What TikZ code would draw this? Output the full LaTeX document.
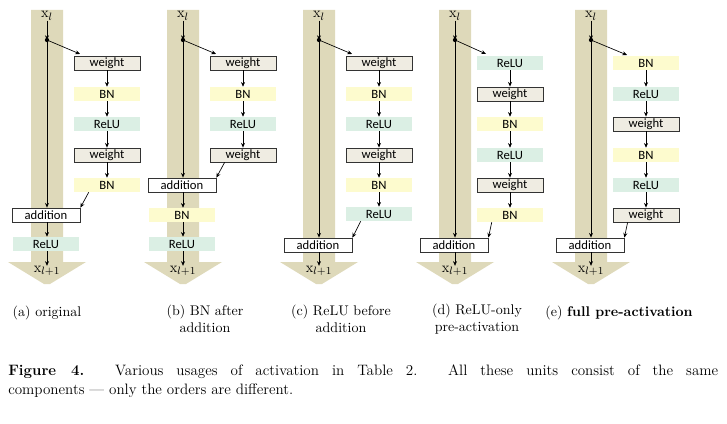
\documentclass[tikz,border=0pt]{standalone}
\usepackage{fontspec}
\newfontfamily\carfont{Carlito}
\usetikzlibrary{arrows.meta}
\definecolor{shaft}{RGB}{222,217,186}
\definecolor{bnc}{RGB}{253,251,206}
\definecolor{reluc}{RGB}{219,239,228}
\definecolor{wc}{RGB}{239,236,226}
\tikzset{
 blk/.style={minimum width=66*0.75pt,minimum height=14*0.75pt,inner sep=0pt,font=\carfont\fontsize{9.5}{10}\selectfont},
 wt/.style={blk,draw=black!80,fill=wc,line width=0.6pt},
 bn/.style={blk,fill=bnc},
 relu/.style={blk,fill=reluc},
 add/.style={blk,draw=black!80,fill=white,minimum width=68*0.75pt,line width=0.6pt},
 ar/.style={-{Stealth[length=3.5pt,width=3pt]},line width=0.5pt},
 xl/.style={font=\fontsize{11}{11}\selectfont,inner sep=0pt},
 sub/.style={font=\fontsize{10.5}{12.5}\selectfont,align=center,inner sep=0pt},
}
\begin{document}
\begin{tikzpicture}[x=0.75pt,y=-0.75pt]
\useasboundingbox (0,0) rectangle (727,424);
\foreach \c in {47,183,319,455,591}{
 \fill[shaft] (\c-16,10) -- (\c+16,10) -- (\c+16,262) -- (\c+39,262) -- (\c+3,284) -- (\c-3,284) -- (\c-39,262) -- (\c-16,262) -- cycle;
}
% panel a
\node[xl] (xa) at (47,16) {x$_l$};
\fill (47,40) circle (1.6pt); \coordinate (da) at (47,40);
\node[wt] (a1) at (107,63) {weight};
\node[bn] (a2) at (107,94) {BN};
\node[relu] (a3) at (107,124) {ReLU};
\node[wt] (a4) at (107,155) {weight};
\node[bn] (a5) at (107,185) {BN};
\node[add] (aa) at (46,215) {addition};
\node[relu] (ar) at (46,244) {ReLU};
\node[xl] (xa2) at (47,271) {x$_{l+1}$};
\draw[ar] (xa) -- (da); \draw[ar] (da) -- (80,54);
\draw[ar] (a1)--(a2); \draw[ar] (a2)--(a3); \draw[ar] (a3)--(a4); \draw[ar] (a4)--(a5);
\draw[ar] (a5.south west)++(15,0) -- (aa.north east);
\draw[ar] (da) -- (aa.north-|da); \draw[ar] (aa.south-|da) -- (ar.north-|da); \draw[ar] (ar.south-|da) -- (xa2);
\node[sub] (la) at (47,313) {(a) original};
% panel b
\node[xl] (xb) at (183,16) {x$_l$};
\fill (183,40) circle (1.6pt); \coordinate (db) at (183,40);
\node[wt] (b1) at (243,63) {weight};
\node[bn] (b2) at (243,94) {BN};
\node[relu] (b3) at (243,124) {ReLU};
\node[wt] (b4) at (243,155) {weight};
\node[add] (ba) at (182,185) {addition};
\node[bn] (bb) at (182,215) {BN};
\node[relu] (br) at (182,244) {ReLU};
\node[xl] (xb2) at (183,271) {x$_{l+1}$};
\draw[ar] (xb) -- (db); \draw[ar] (db) -- (216,54);
\draw[ar] (b1)--(b2); \draw[ar] (b2)--(b3); \draw[ar] (b3)--(b4);
\draw[ar] (b4.south west)++(15,0) -- (ba.north east);
\draw[ar] (db) -- (ba.north-|db); \draw[ar] (ba.south-|db) -- (bb.north-|db); \draw[ar] (bb.south-|db) -- (br.north-|db); \draw[ar] (br.south-|db) -- (xb2);
\node[sub] (lb) at (205,319) {(b) BN after\\addition};
% panel c
\node[xl] (xc) at (319,16) {x$_l$};
\fill (319,40) circle (1.6pt); \coordinate (dc) at (319,40);
\node[wt] (c1) at (379,63) {weight};
\node[bn] (c2) at (379,94) {BN};
\node[relu] (c3) at (379,124) {ReLU};
\node[wt] (c4) at (379,155) {weight};
\node[bn] (c5) at (379,185) {BN};
\node[relu] (c6) at (379,214) {ReLU};
\node[add] (ca) at (318,245) {addition};
\node[xl] (xc2) at (319,271) {x$_{l+1}$};
\draw[ar] (xc) -- (dc); \draw[ar] (dc) -- (352,54);
\draw[ar] (c1)--(c2); \draw[ar] (c2)--(c3); \draw[ar] (c3)--(c4); \draw[ar] (c4)--(c5); \draw[ar] (c5)--(c6);
\draw[ar] (c6.south west)++(15,0) -- (ca.north east);
\draw[ar] (dc) -- (ca.north-|dc); \draw[ar] (ca.south-|dc) -- (xc2);
\node[sub] (lc) at (341,319) {(c) ReLU before\\addition};
% panel d
\node[xl] (xd) at (455,16) {x$_l$};
\fill (455,40) circle (1.6pt); \coordinate (dd) at (455,40);
\node[relu] (d1) at (510,63) {ReLU};
\node[wt] (d2) at (510,94) {weight};
\node[bn] (d3) at (510,124) {BN};
\node[relu] (d4) at (510,155) {ReLU};
\node[wt] (d5) at (510,185) {weight};
\node[bn] (d6) at (510,215) {BN};
\node[add] (da2) at (454,245) {addition};
\node[xl] (xd2) at (455,271) {x$_{l+1}$};
\draw[ar] (xd) -- (dd); \draw[ar] (dd) -- (486,54);
\draw[ar] (d1)--(d2); \draw[ar] (d2)--(d3); \draw[ar] (d3)--(d4); \draw[ar] (d4)--(d5); \draw[ar] (d5)--(d6);
\draw[ar] (d6.south west)++(15,0) -- (da2.north east);
\draw[ar] (dd) -- (da2.north-|dd); \draw[ar] (da2.south-|dd) -- (xd2);
\node[sub] (ld) at (477,319) {(d) ReLU-only\\pre-activation};
% panel e
\node[xl] (xe) at (591,16) {x$_l$};
\fill (591,40) circle (1.6pt); \coordinate (de) at (591,40);
\node[bn] (e1) at (646,63) {BN};
\node[relu] (e2) at (646,94) {ReLU};
\node[wt] (e3) at (646,124) {weight};
\node[bn] (e4) at (646,155) {BN};
\node[relu] (e5) at (646,185) {ReLU};
\node[wt] (e6) at (646,215) {weight};
\node[add] (ea) at (590,245) {addition};
\node[xl] (xe2) at (591,271) {x$_{l+1}$};
\draw[ar] (xe) -- (de); \draw[ar] (de) -- (627,55);
\draw[ar] (e1)--(e2); \draw[ar] (e2)--(e3); \draw[ar] (e3)--(e4); \draw[ar] (e4)--(e5); \draw[ar] (e5)--(e6);
\draw[ar] (e6.south west)++(15,0) -- (ea.north east);
\draw[ar] (de) -- (ea.north-|de); \draw[ar] (ea.south-|de) -- (xe2);
\node[sub] (le) at (619,313) {(e) \textbf{full pre-activation}};
% caption
\node[anchor=north west,text width=710*0.75pt,inner sep=0pt,font=\fontsize{11.3}{14.5}\selectfont,align=justify] (cap) at (8,364) {\textbf{Figure 4.} Various usages of activation in Table 2. All these units consist of the same\linebreak components --- only the orders are different.};
\end{tikzpicture}
\end{document}
